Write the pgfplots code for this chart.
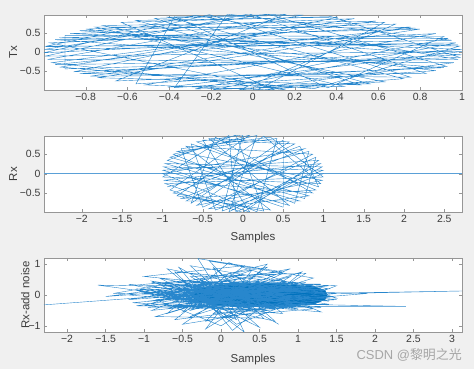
\documentclass[border=0pt]{standalone}
\usepackage{pgfplots}
\pgfplotsset{compat=1.18}
\usepgfplotslibrary{polar}
\usepackage{fontspec}
\setmainfont{Liberation Sans}
\newfontfamily\cjk{Noto Sans CJK SC}
\definecolor{mblue}{RGB}{0,114,189}
\definecolor{lblue}{RGB}{40,135,205}
\definecolor{hblue}{RGB}{90,160,215}
\definecolor{figbg}{RGB}{240,240,240}
\definecolor{axgray}{RGB}{150,150,150}
\definecolor{tickc}{RGB}{60,60,60}
\pgfplotsset{
  mstyle/.style={
    scale only axis, anchor=south west, width=418bp,
    axis line style={axgray}, tick style={axgray},
    major tick length=3bp, tick align=inside,
    ticklabel style={font=\fontsize{10.5}{12}\selectfont, text=tickc},
    label style={font=\fontsize{11.5}{13}\selectfont, text=tickc},
    axis background/.style={fill=white},
  },
  ln/.style={color=lblue, line width=0.4pt, no markers},
}
\begin{document}
\begin{tikzpicture}
\fill[figbg] (0,0) rectangle (474bp,369bp);
\path[use as bounding box] (0,0) rectangle (474bp,369bp);
% ---------- Tx ----------
\begin{axis}[mstyle, at={(44bp,279bp)}, height=75bp,
  xmin=-0.999, xmax=1, ymin=-0.99, ymax=0.97,
  xtick={-0.8,-0.6,-0.4,-0.2,0,0.2,0.4,0.6,0.8,1},
  xticklabels={−0.8,−0.6,−0.4,−0.2,0,0.2,0.4,0.6,0.8,1},
  ytick={-0.5,0,0.5}, yticklabels={−0.5,0,0.5},
  ylabel={Tx}, ylabel style={at={(axis description cs:-0.074,0.5)}, anchor=center}]
\addplot[ln, data cs=polar] coordinates {
(172,1) (18,1) (97,1) (248,1) (331,1) (143,1) (61,1) (203,1) (287,1) (9,1)
(158,1) (37,1) (222,1) (301,1) (118,1) (76,1) (191,1) (344,1) (266,1) (47,1)
(151,1) (4,1) (214,1) (319,1) (102,1) (181,1) (29,1) (239,1) (276,1) (129,1)
(68,1) (352,1) (206,1) (154,1) (24,1) (291,1) (112,1) (236,1) (338,1) (86,1)
(176,1) (14,1) (259,1) (309,1) (136,1) (54,1) (196,1) (279,1) (166,1) (41,1)
(219,1) (326,1) (91,1) (186,1) (1,1) (246,1) (304,1) (124,1) (66,1) (211,1)
(356,1) (146,1) (51,1) (271,1) (316,1) (114,1) (81,1) (229,1) (336,1) (161,1)
(21,1) (254,1) (296,1) (139,1) (39,1) (199,1) (349,1) (106,1) (171,1) (11,1)
};
\end{axis}
% ---------- Rx ----------
\begin{axis}[mstyle, at={(44bp,157bp)}, height=76bp,
  xmin=-2.47, xmax=2.72, ymin=-0.99, ymax=0.97,
  xtick={-2,-1.5,-1,-0.5,0,0.5,1,1.5,2,2.5},
  xticklabels={−2,−1.5,−1,−0.5,0,0.5,1,1.5,2,2.5},
  ytick={-0.5,0,0.5}, yticklabels={−0.5,0,0.5},
  xlabel={Samples}, xlabel style={at={(axis description cs:0.5,-0.33)}, anchor=center},
  ylabel={Rx}, ylabel style={at={(axis description cs:-0.074,0.5)}, anchor=center}]
\addplot[draw=hblue, line width=1pt, no markers] coordinates {(-2.47,0) (2.72,0)};
\addplot[ln, data cs=polar] coordinates {
(200,1) (35,1) (310,1) (150,1) (80,1) (260,1) (15,1) (190,1) (330,1) (110,1)
(230,1) (60,1) (300,1) (170,1) (5,1) (250,1) (130,1) (340,1) (45,1) (210,1)
(285,1) (95,1) (160,1) (320,1) (25,1) (240,1) (140,1) (70,1) (355,1) (195,1)
(275,1) (120,1) (50,1) (225,1) (315,1) (165,1) (10,1) (265,1) (100,1) (185,1)
(345,1) (75,1) (215,1) (290,1) (135,1) (30,1) (245,1) (325,1) (155,1) (85,1)
(205,1) (270,1) (20,1) (175,1) (305,1) (115,1) (55,1) (235,1) (350,1) (145,1)
(65,1) (280,1) (180,1) (40,1) (220,1) (335,1) (125,1) (90,1) (255,1) (0,1)
};
\end{axis}
% ---------- Rx-add noise ----------
\begin{axis}[mstyle, at={(44bp,37bp)}, height=74bp,
  xmin=-2.3, xmax=3.13, ymin=-1.2, ymax=1.2,
  xtick={-2,-1.5,-1,-0.5,0,0.5,1,1.5,2,2.5,3},
  xticklabels={−2,−1.5,−1,−0.5,0,0.5,1,1.5,2,2.5,3},
  ytick={-1,0,1}, yticklabels={−1,0,1},
  xlabel={Samples}, xlabel style={at={(axis description cs:0.5,-0.378)}, anchor=center},
  ylabel={Rx-add noise}, ylabel style={at={(axis description cs:-0.045,0.5)}, anchor=center}]
\addplot[fill=mblue, draw=mblue, line width=0.45pt] coordinates {
(-0.4,0.0) (-0.3,0.2) (-0.05,0.32) (0.3,0.37) (0.6,0.36) (0.9,0.33) (1.2,0.28)
(1.35,0.15) (1.38,0.0) (1.35,-0.15) (1.2,-0.3) (0.9,-0.36) (0.6,-0.38) (0.3,-0.37)
(0.0,-0.34) (-0.3,-0.22) (-0.4,0.0)
};
\addplot[ln] coordinates {
(-2.3,-0.32) (-1.0,-0.08) (0.9,0.3) (-0.8,-0.3) (1.2,0.1) (-0.6,0.35) (1.4,-0.2)
(-1.1,0.2) (0.7,-0.4) (-0.5,-0.15) (1.3,0.35) (-0.9,0.4) (1.0,-0.45) (-1.2,0.0)
(0.5,0.42) (-0.7,-0.45) (1.5,0.05) (-0.4,0.25) (0.8,-0.25) (-1.0,0.3) (1.1,0.4)
(-0.6,-0.35) (1.45,-0.05) (-0.8,0.1) (0.6,-0.5) (-1.15,-0.25) (1.2,0.25) (-0.3,0.4)
(0.95,-0.35) (-0.95,-0.4) (1.35,0.15) (-0.5,0.45) (0.4,-0.45) (-1.05,0.1) (1.25,-0.3)
(-0.75,0.3) (0.85,0.42) (-0.45,-0.3) (1.4,0.3) (-1.2,-0.15) (0.3,0.45) (-0.65,-0.1)
(1.05,-0.15) (-0.9,0.25) (1.5,-0.15) (-0.35,-0.45) (0.75,0.35) (-1.1,-0.35) (1.3,-0.4)
(-0.55,0.15) (0.9,0.05) (-0.85,-0.15) (1.15,0.3)
(-0.7,0.05) (1.0,0.2) (-0.45,-0.2) (1.25,-0.1) (-0.8,0.38) (0.6,0.45) (-0.6,-0.2)
(1.1,-0.4) (-1.0,0.05) (0.2,0.5) (-0.4,-0.5) (0.9,0.4) (-0.95,-0.2) (1.3,0.2)
(-0.5,0.05) (0.5,-0.5) (-0.75,-0.35) (1.4,-0.3) (-0.35,0.35) (0.7,-0.45)
(-1.6,0.32) (-1.2,0.3) (0.8,0.75) (-0.3,1.18) (0.2,-0.8) (-0.9,0.45) (1.1,-0.3)
(-0.5,-0.95) (0.6,0.9) (-1.4,0.05) (1.5,-0.1) (0.1,1.05) (-0.7,-0.6) (0.9,0.6)
(-0.2,-1.1) (0.4,0.8) (-1.0,-0.35) (1.4,0.2) (-0.4,0.95) (0.5,-1.05) (-0.8,0.55)
(1.2,-0.45) (0.0,-0.7) (-0.6,0.75) (1.0,0.4) (-1.1,0.15) (0.7,-0.85) (-0.1,0.9)
(0.3,-1.2) (-0.5,0.3) (1.6,0.05) (3.13,0.13) (1.2,0.05) (-0.9,-0.5) (0.2,0.6)
(0.8,-0.6) (-0.3,-0.4) (1.9,0.05) (-0.7,0.2) (0.6,1.0) (-0.2,-0.85) (0.9,-0.2)
(-1.2,0.35) (0.4,-0.5) (-0.4,0.6) (1.1,0.7) (0.0,-1.0) (-0.8,-0.2) (0.5,0.5)
(-0.1,-0.6) (1.0,-0.37) (2.4,-0.37) (1.0,-0.3) (-0.6,-0.8) (0.3,0.95) (-1.0,0.6)
(0.7,0.2) (-0.3,-0.2) (1.3,-0.55) (0.1,0.7) (-0.5,-0.55) (0.9,0.85) (-0.9,0.0)
(0.6,-0.4) (-0.25,0.45) (1.5,0.3) (0.2,-0.95) (-0.7,0.85) (0.4,0.3) (-1.5,-0.05)
(0.8,0.7) (-0.4,-0.7) (1.2,0.55) (-0.15,1.1) (0.55,-0.75) (-0.85,-0.7) (1.05,0.75)
(0.15,-1.15) (-0.55,0.9) (0.75,-0.95)
};
\end{axis}
\node[anchor=east, text=gray!70, font=\fontsize{13}{15}\selectfont, inner sep=0pt]
  at (462bp,14bp) {CSDN @\cjk 黎明之光};
\end{tikzpicture}
\end{document}
